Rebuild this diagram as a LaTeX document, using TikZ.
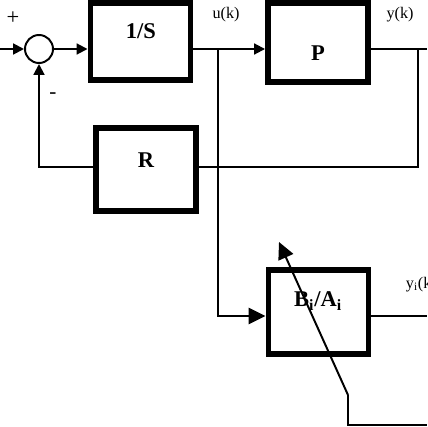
\documentclass[tikz,border=0pt]{standalone}
\usepackage{fontspec}
\setmainfont{Liberation Serif}
\usetikzlibrary{arrows.meta,calc}

\begin{document}
\begin{tikzpicture}[
			x = 0.025cm, y = -0.025cm,
			line width = 1.4pt,
			blk/.style = {draw, line width = 4.2pt, minimum width = 2.5cm, inner sep = 0pt},
			sig/.style = {-{Triangle[length=0.27cm,width=0.27cm]}},
			bigsig/.style = {-{Triangle[length=0.42cm,width=0.4cm]}},
			blktext/.style = {font=\fontsize{16}{16}\selectfont\bfseries, inner sep=0pt},
			lbl/.style = {font=\fontsize{11.5}{11.5}\selectfont, inner sep=0pt}
			]

			\useasboundingbox (0,0) rectangle (427,427);
			\clip (0,0) rectangle (427,427);

			% blocks
			\node[blk, minimum height=1.925cm] (intS) at (140.5,41.5) {};
			\node[blk, minimum height=1.975cm] (plant) at (318,42.5) {};
			\node[blk, minimum height=2.075cm] (reg) at (146,169.5) {};
			\node[blk, minimum height=2.1cm] (model) at (318.5,312) {};
			\node[draw, circle, minimum size=0.7cm, inner sep=0pt] (sum) at (39,49) {};

			\node[blktext] (intSt) at (141,31.5) {1/S};
			\node[blktext] (plantt) at (318,53.5) {P};
			\node[blktext] (regt) at (146,160.5) {R};
			\node[blktext] (modelt) at (318,301) {B$_{\mathbf{i}}$/A$_{\mathbf{i}}$};

			\node[lbl, font=\fontsize{16}{16}\selectfont] (plus) at (13,18) {+};
			\node[lbl, font=\fontsize{15}{15}\selectfont] (minus) at (53,96) {-};
			\node[lbl, anchor=base] (uklbl) at (226,19) {u(k)};
			\node[lbl, anchor=base] (yklbl) at (400,19) {y(k)};
			\node[lbl, anchor=base west] (yilbl) at (405,288) {y$_\mathrm{i}$(k)};

			\coordinate (in) at (0,49);
			\coordinate (uk) at (218,49);
			\coordinate (yk) at (418,49);
			\coordinate (out) at (427,49);
			\coordinate (fb) at (418,167);
			\coordinate (yi) at (427,316);
			\coordinate (adj) at (348,395);
			\coordinate (tip) at (279,242);
			\coordinate (adjb) at (348,425);
			\coordinate (adje) at (427,425);

			% forward path
			\draw[sig] (in) -- (sum.west);
			\draw[sig] (sum.east) -- (sum.east -| intS.west);
			\draw[sig] (sum -| intS.east) -- (sum -| plant.west);
			\draw (sum -| plant.east) -- (out);

			% feedback
			\draw (yk) -- (fb) -- (fb -| reg.east);
			\draw[sig] (fb -| reg.west) -| (sum.south);

			% model
			\draw[bigsig] (uk) |- ($(model.west)+(0,4)$);
			\draw ($(model.east)+(0,4)$) -- (yi);
			\draw[bigsig] (adj) -- (tip);
			\draw (adj) -- (adjb) -- (adje);

		\end{tikzpicture}
\end{document}
